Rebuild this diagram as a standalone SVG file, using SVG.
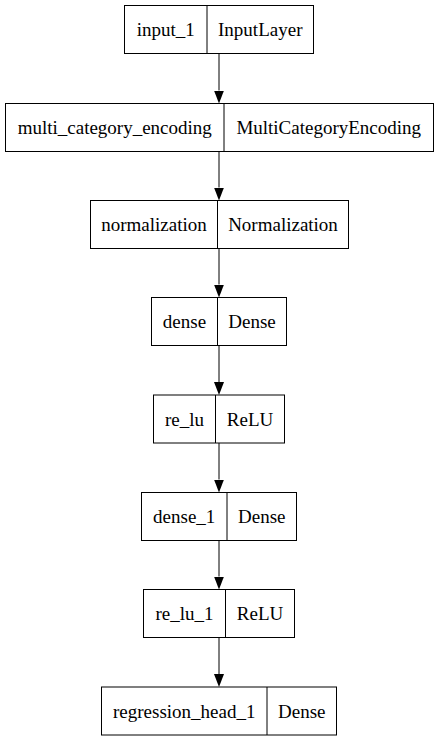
<svg xmlns="http://www.w3.org/2000/svg" width="439" height="741" viewBox="0 0 439 741">
<style>
.box{fill:#fff;stroke:#000;stroke-width:1}
.div{stroke:#000;stroke-width:1}
.t{font-family:"Liberation Serif","Times New Roman",serif;font-size:19px;fill:#000;text-anchor:middle}
.e{stroke:#000;stroke-width:1;fill:none;marker-end:url(#ah)}
</style>
<defs>
<marker id="ah" viewBox="0 0 13 10" refX="0" refY="5" markerWidth="13" markerHeight="10" markerUnits="userSpaceOnUse" orient="auto">
<path d="M0,0 L13,5 L0,10 z" fill="#000"/>
</marker>
</defs>
<rect width="439" height="741" fill="#fff"/>
<g id="edges">
<line class="e" x1="219" y1="53.5" x2="219" y2="90.5"/>
<line class="e" x1="219" y1="151.5" x2="219" y2="187.5"/>
<line class="e" x1="219" y1="248.5" x2="219" y2="284.5"/>
<line class="e" x1="219" y1="345.5" x2="219" y2="382"/>
<line class="e" x1="219" y1="443" x2="219" y2="479.5"/>
<line class="e" x1="219" y1="540.5" x2="219" y2="576.5"/>
<line class="e" x1="219" y1="637.5" x2="219" y2="674"/>
</g>
<g id="input_1">
<rect class="box" x="124.5" y="5.5" width="189" height="48"/>
<line class="div" x1="207" y1="5.5" x2="207" y2="53.5"/>
<text class="t" x="165.75" y="36">input_1</text>
<text class="t" x="260.25" y="36">InputLayer</text>
</g>
<g id="multi_category_encoding">
<rect class="box" x="5.5" y="103.5" width="428" height="48"/>
<line class="div" x1="224" y1="103.5" x2="224" y2="151.5"/>
<text class="t" x="114.75" y="134">multi_category_encoding</text>
<text class="t" x="328.75" y="134">MultiCategoryEncoding</text>
</g>
<g id="normalization">
<rect class="box" x="90.5" y="200.5" width="258" height="48"/>
<line class="div" x1="217.5" y1="200.5" x2="217.5" y2="248.5"/>
<text class="t" x="154" y="231">normalization</text>
<text class="t" x="283" y="231">Normalization</text>
</g>
<g id="dense">
<rect class="box" x="151.5" y="297.5" width="135" height="48"/>
<line class="div" x1="217.5" y1="297.5" x2="217.5" y2="345.5"/>
<text class="t" x="184.5" y="328">dense</text>
<text class="t" x="252" y="328">Dense</text>
</g>
<g id="re_lu">
<rect class="box" x="153.5" y="395" width="131" height="48"/>
<line class="div" x1="215.5" y1="395" x2="215.5" y2="443"/>
<text class="t" x="184.5" y="425.5">re_lu</text>
<text class="t" x="250" y="425.5">ReLU</text>
</g>
<g id="dense_1">
<rect class="box" x="141.5" y="492.5" width="155" height="48"/>
<line class="div" x1="227" y1="492.5" x2="227" y2="540.5"/>
<text class="t" x="184.25" y="523">dense_1</text>
<text class="t" x="261.75" y="523">Dense</text>
</g>
<g id="re_lu_1">
<rect class="box" x="143.5" y="589.5" width="151" height="48"/>
<line class="div" x1="225.5" y1="589.5" x2="225.5" y2="637.5"/>
<text class="t" x="184.5" y="620">re_lu_1</text>
<text class="t" x="260" y="620">ReLU</text>
</g>
<g id="regression_head_1">
<rect class="box" x="101.5" y="687" width="235" height="48"/>
<line class="div" x1="267" y1="687" x2="267" y2="735"/>
<text class="t" x="184.25" y="717.5">regression_head_1</text>
<text class="t" x="301.75" y="717.5">Dense</text>
</g>
</svg>
